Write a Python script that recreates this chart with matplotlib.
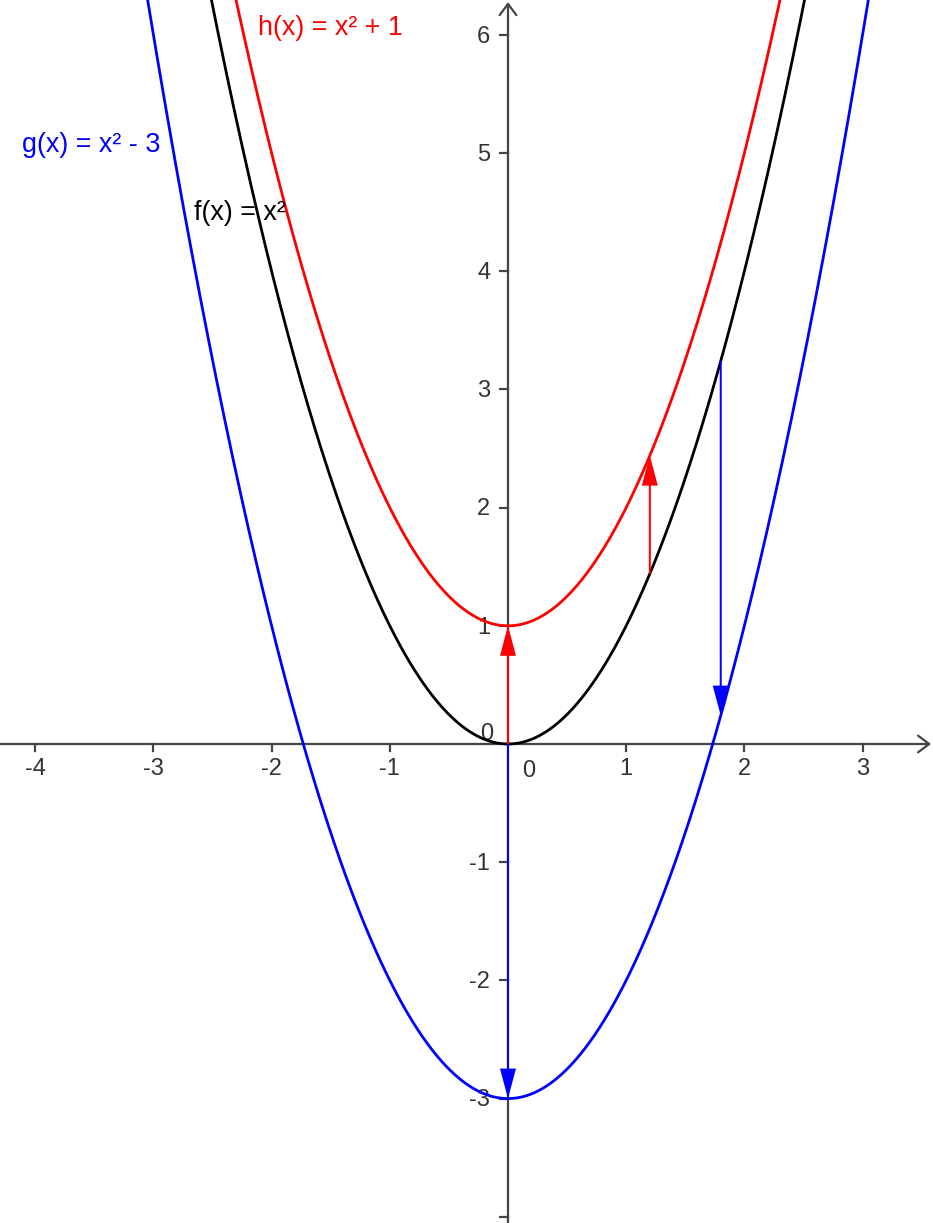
import numpy as np
import matplotlib.pyplot as plt

# vertical shifts of y = x^2
shifts = [0, 1, -3]
colors = ['black', '#ff0000', '#0000ff']
labels = ['f(x) = x²', 'h(x) = x² + 1', 'g(x) = x² - 3']
label_pos = [(-2.657, 4.43), (-2.115, 6.0), (-4.112, 5.01)]

# arrows showing the shift: x where it starts on f, and the shift
arrow_x = [0.0, 1.2, 0.0, 1.8]
arrow_shift = [1, 1, -3, -3]
arrow_colors = ['#ff0000', '#ff0000', '#0000ff', '#0000ff']

x_ticks = [-4, -3, -2, -1, 1, 2, 3]
y_ticks = [-4, -3, -2, -1, 1, 2, 3, 4, 5, 6]
y_tick_labels = ['', '-3', '-2', '-1', '1', '2', '3', '4', '5', '6']

xmin, xmax = -4.298, 3.596
ymin, ymax = -4.052, 6.294
px = 1 / 118.19  # one pixel in data units

plt.rcParams['font.family'] = ['Liberation Sans', 'DejaVu Sans']
axis_col = '#444444'
tick_col = '#333333'
tick_fs = 17

fig = plt.figure(figsize=(9.33, 12.23), dpi=100)
ax = fig.add_axes([0, 0, 1, 1])
ax.set_xlim(xmin, xmax)
ax.set_ylim(ymin, ymax)
ax.set_aspect('equal')
ax.axis('off')

# axes with open arrow heads
for xy, xytext in [((xmax - 2 * px, 0), (xmin, 0)), ((0, ymax - 2 * px), (0, ymin))]:
    ax.annotate('', xy=xy, xytext=xytext,
                arrowprops=dict(arrowstyle='->,head_length=0.4,head_width=0.3',
                                color=axis_col, lw=1.6, shrinkA=0, shrinkB=0,
                                mutation_scale=20))

# ticks and labels
for t in x_ticks:
    ax.plot([t, t], [0, -7 * px], color=axis_col, lw=1.6)
    ax.text(t, -0.265, str(t), ha='center', va='baseline',
            fontsize=tick_fs, color=tick_col)
for t, lab in zip(y_ticks, y_tick_labels):
    ax.plot([0, -8 * px], [t, t], color=axis_col, lw=1.6)
    ax.text(-0.15, t - 0.066, lab, ha='right', va='baseline',
            fontsize=tick_fs, color=tick_col)
ax.text(0.173, -0.279, '0', ha='center', va='baseline', fontsize=tick_fs, color=tick_col)
ax.text(-0.125, 0.034, '0', ha='right', va='baseline', fontsize=tick_fs, color=tick_col)

# curves
xs = np.linspace(xmin, xmax, 800)
for s, c, lab, (lx, ly) in zip(shifts, colors, labels, label_pos):
    ax.plot(xs, xs ** 2 + s, color=c, lw=2, zorder=3)
    ax.text(lx, ly, lab, color=c, fontsize=19.4, ha='left', va='baseline', zorder=5)

# shift arrows
for x0, d, c in zip(arrow_x, arrow_shift, arrow_colors):
    y0 = x0 ** 2
    ax.arrow(x0, y0, 0, d, width=2 * px, head_width=16 * px, head_length=30 * px,
             length_includes_head=True, color=c, lw=0, zorder=4)

fig.savefig('out.png', dpi=100)
